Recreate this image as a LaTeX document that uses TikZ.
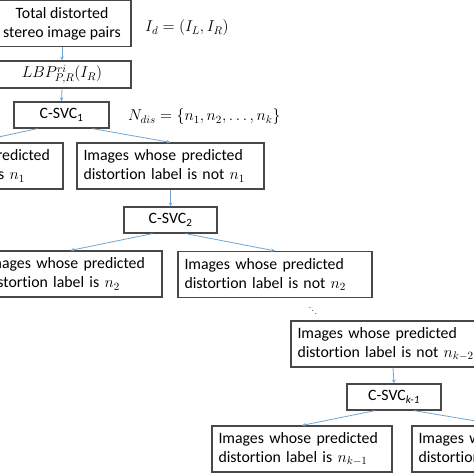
\RequirePackage{fix-cm}
\documentclass[tikz,border=0pt]{standalone}
\usepackage{fontspec}
\setmainfont{Carlito}[Ligatures=NoCommon]
\usetikzlibrary{arrows.meta}
\definecolor{boxgray}{RGB}{72,72,72}
\definecolor{arrowblue}{RGB}{110,166,216}
\tikzset{
  box/.style={draw=boxgray, line width=1.2pt, fill=white, inner xsep=6.5pt, inner ysep=0pt,
    font=\fontsize{15.8}{19}\selectfont},
  cbox/.style 2 args={box, minimum width=#1, minimum height=#2, align=center},
  lbox/.style={box, minimum height=46pt, text width=#1, align=left},
  conn/.style={draw=arrowblue, line width=0.8pt, -{Stealth[length=4pt,width=3.5pt]}},
  lab/.style={font=\fontsize{15.8}{19}\selectfont, inner sep=0pt},
}
\begin{document}
\begin{tikzpicture}[x=1pt,y=-1pt]
\useasboundingbox (0,0) rectangle (474,474);
\fill[white] (0,0) rectangle (474,474);
\clip (0,0) rectangle (474,474);
% nodes
\node[cbox={138pt}{46pt}] (b1) at (62,23.5) {Total distorted\\stereo image pairs};
\node[cbox={138pt}{27pt}] (b2) at (62,74.5) {$LBP^{ri}_{P,R}(I_R)$};
\node[cbox={95pt}{26pt}] (c1) at (61.5,115) {C-SVC\textsubscript{1}};
\node[lbox={166pt}] (b4) at (-26.5,166) {Images whose predicted\\distortion label is $n_1$};
\node[lbox={174pt}] (b5) at (170.5,166) {Images whose predicted\\distortion label is not $n_1$};
\node[cbox={93pt}{26pt}] (c2) at (170.5,220) {C-SVC\textsubscript{2}};
\node[lbox={170pt}] (b6) at (70.5,274) {Images whose predicted\\distortion label is $n_2$};
\node[lbox={181pt}] (b7) at (275,274.5) {Images whose predicted\\distortion label is not $n_2$};
\node[lab] (dots) at (313,308) {\fontsize{8}{9}\selectfont$\ddots$};
\node[lbox={191pt}] (b8) at (393,344) {Images whose predicted\\distortion label is not $n_{k-2}$};
\node[cbox={94pt}{26pt}] (c3) at (394,397) {C-SVC\textsubscript{\textit{k-1}}};
\node[lbox={167pt}] (b9) at (302,449) {Images whose predicted\\distortion label is $n_{k-1}$};
\node[lbox={167pt}] (b10) at (502,449) {Images whose predicted\\distortion label is $n_k$};
% labels
\node[lab, anchor=west] (id) at (145,28) {$I_d = (I_L, I_R)$};
\node[lab, anchor=west] (nd) at (128,117) {$N_{dis} = \{n_1, n_2, \ldots, n_k\}$};
% connectors
\draw[conn] (b1.south) -- (b2.north);
\draw[conn] (b2.south) -- (c1.north);
\draw[conn] ([xshift=-24pt]c1.south) -- (b4.north);
\draw[conn] ([xshift=31pt]c1.south) -- (b5.north);
\draw[conn] (b5.south) -- (c2.north);
\draw[conn] ([xshift=-18pt]c2.south) -- (b6.north);
\draw[conn] ([xshift=15pt]c2.south) -- (b7.north);
\draw[conn] (b8.south) -- (c3.north);
\draw[conn] ([xshift=-19pt]c3.south) -- (b9.north);
\draw[conn] ([xshift=20pt]c3.south) -- (b10.north);
\end{tikzpicture}
\end{document}
